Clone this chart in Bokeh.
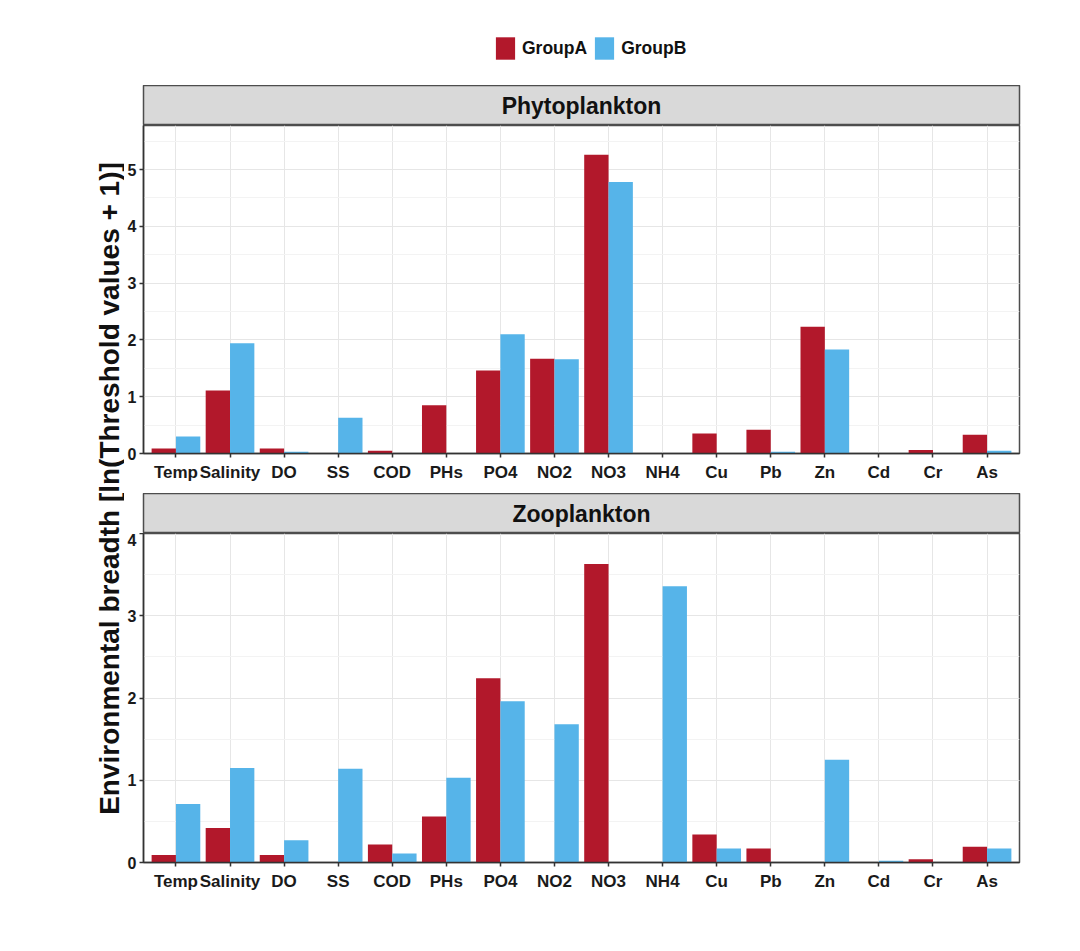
import math
from bokeh.plotting import figure
from bokeh.models import (ColumnDataSource, Range1d, FixedTicker, SingleIntervalTicker,
                          Legend, LegendItem, Label)
from bokeh.layouts import row, column
from bokeh.transform import dodge
from bokeh.embed import file_html
from bokeh.resources import INLINE

# ---------------- data ----------------
categories = ["Temp", "Salinity", "DO", "SS", "COD", "PHs", "PO4", "NO2",
              "NO3", "NH4", "Cu", "Pb", "Zn", "Cd", "Cr", "As"]
phyto_groupA = [0.09, 1.11, 0.09, 0.00, 0.05, 0.85, 1.46, 1.67,
                5.26, 0.00, 0.35, 0.42, 2.23, 0.00, 0.06, 0.33]
phyto_groupB = [0.30, 1.94, 0.03, 0.63, 0.00, 0.00, 2.10, 1.66,
                4.78, 0.00, 0.00, 0.03, 1.83, 0.00, 0.00, 0.05]
zoo_groupA = [0.09, 0.42, 0.09, 0.00, 0.22, 0.56, 2.24, 0.00,
              3.63, 0.00, 0.34, 0.17, 0.00, 0.00, 0.04, 0.19]
zoo_groupB = [0.71, 1.15, 0.27, 1.14, 0.11, 1.03, 1.96, 1.68,
              0.00, 3.36, 0.17, 0.00, 1.25, 0.02, 0.00, 0.17]
panel_titles = ["Phytoplankton", "Zooplankton"]
group_names = ["GroupA", "GroupB"]
y_label = "Environmental breadth [ln(Threshold values + 1)]"

# ---------------- style ----------------
COLOR_A = "#B2182B"
COLOR_B = "#56B4E9"
FRAME_W = 876
LEFT = 17
RIGHT = 20
FONT = "Liberation Sans"


def strip(title):
    s = figure(frame_width=FRAME_W, frame_height=40, min_border_left=LEFT,
               min_border_right=RIGHT, min_border_top=0, min_border_bottom=0,
               x_range=Range1d(0, 1), y_range=Range1d(0, 1),
               x_axis_location=None, y_axis_location=None,
               toolbar_location=None, output_backend="svg",
               background_fill_color="#D9D9D9", border_fill_color="white")
    s.outline_line_color = "#4D4D4D"
    s.outline_line_width = 1.5
    for g in s.grid:
        g.visible = False
    s.add_layout(Label(x=0.5, y=0.5, text=title, text_align="center",
                       text_baseline="middle", text_font=FONT,
                       text_font_size="23px", text_font_style="bold",
                       text_color="#111111"))
    return s


def panel(a_vals, b_vals, ymax, frame_h):
    src = ColumnDataSource(dict(idx=list(range(len(categories))),
                                A=a_vals, B=b_vals))
    p = figure(frame_width=FRAME_W, frame_height=frame_h,
               min_border_left=LEFT, min_border_right=RIGHT,
               min_border_top=0, min_border_bottom=40,
               x_range=Range1d(-0.6, len(categories) - 0.4),
               y_range=Range1d(0, ymax),
               toolbar_location=None, output_backend="svg",
               background_fill_color="white")
    p.vbar(x=dodge("idx", -0.225), top="A", width=0.45, source=src,
           fill_color=COLOR_A, line_color=None)
    p.vbar(x=dodge("idx", 0.225), top="B", width=0.45, source=src,
           fill_color=COLOR_B, line_color=None)

    xt = FixedTicker(ticks=list(range(len(categories))))
    p.xaxis.ticker = xt
    p.xgrid.ticker = xt
    p.xaxis.major_label_overrides = {i: c for i, c in enumerate(categories)}
    yt = SingleIntervalTicker(interval=1, num_minor_ticks=2)
    p.yaxis.ticker = yt
    p.ygrid.ticker = yt

    p.grid.grid_line_color = "#E6E6E6"
    p.grid.grid_line_width = 1
    p.ygrid.minor_grid_line_color = "#F3F3F3"

    for ax in (p.xaxis, p.yaxis):
        ax.axis_line_color = "#333333"
        ax.axis_line_width = 1.5
        ax.major_tick_line_color = "#333333"
        ax.major_tick_line_width = 1.5
        ax.major_tick_in = 0
        ax.major_tick_out = 4
        ax.minor_tick_line_color = None
        ax.major_label_text_font = FONT
        ax.major_label_text_font_style = "bold"
        ax.major_label_text_color = "#1A1A1A"
    p.xaxis.major_label_text_font_size = "17px"
    p.xaxis.major_label_standoff = 5
    p.yaxis.major_label_text_font_size = "16px"
    p.yaxis.major_label_standoff = 3

    p.outline_line_color = "#4D4D4D"
    p.outline_line_width = 1.5
    return p


# legend figure (legend swatches use zero-height proxy bars)
LEG_H = 85
lg = figure(frame_width=FRAME_W, frame_height=LEG_H, min_border_left=LEFT,
            min_border_right=RIGHT, min_border_top=0, min_border_bottom=0,
            x_range=Range1d(0, 1), y_range=Range1d(0, 1),
            x_axis_location=None, y_axis_location=None,
            toolbar_location=None, output_backend="svg")
lg.outline_line_color = None
for g in lg.grid:
    g.visible = False
r_a = lg.vbar(x=[0.5], top=[0], bottom=[0], width=0.01,
              fill_color=COLOR_A, line_color=None)
r_b = lg.vbar(x=[0.5], top=[0], bottom=[0], width=0.01,
              fill_color=COLOR_B, line_color=None)
legend = Legend(items=[LegendItem(label=group_names[0], renderers=[r_a]),
                       LegendItem(label=group_names[1], renderers=[r_b])],
                orientation="horizontal", location=(350, 23),
                glyph_width=24, glyph_height=28, label_height=28,
                label_standoff=5, spacing=5, padding=0, margin=0,
                border_line_color=None, background_fill_alpha=0,
                label_text_font=FONT, label_text_font_size="17.5px",
                label_text_font_style="bold", label_text_color="#111111",
                label_text_baseline="middle")
lg.add_layout(legend)

s1 = strip(panel_titles[0])
p1 = panel(phyto_groupA, phyto_groupB, 5.775, 328)
s2 = strip(panel_titles[1])
p2 = panel(zoo_groupA, zoo_groupB, 4.0, 329)

col = column(lg, s1, p1, s2, p2)

TOTAL_H = LEG_H + 40 + 368 + 40 + 369
LAB_W = 124
lab = figure(width=LAB_W, height=TOTAL_H, x_range=Range1d(0, LAB_W),
             y_range=Range1d(0, TOTAL_H), min_border=0,
             x_axis_location=None, y_axis_location=None,
             toolbar_location=None, output_backend="svg")
lab.outline_line_color = None
for g in lab.grid:
    g.visible = False
lab.add_layout(Label(x=109, y=TOTAL_H - 488, text=y_label, angle=math.pi / 2,
                     text_align="center", text_baseline="middle",
                     text_font=FONT, text_font_size="28px",
                     text_font_style="bold", text_color="#111111"))

layout = row(lab, col)

open("out.html", "w").write(file_html(layout, INLINE))
